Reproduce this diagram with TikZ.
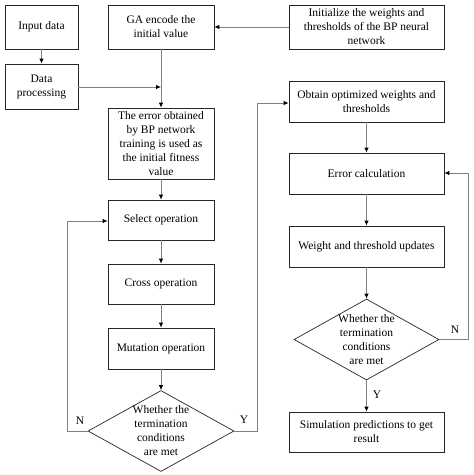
\documentclass[tikz,border=0pt]{standalone}
\usepackage{fontspec}
\setmainfont{Liberation Serif}
\usetikzlibrary{shapes.geometric,arrows.meta}
\begin{document}
\begin{tikzpicture}[x=1pt,y=-1pt,
  box/.style={draw=black!85,line width=0.7pt,rectangle,align=center,inner sep=1pt,font=\fontsize{11.5}{14}\selectfont},
  dia/.style={draw=black!85,line width=0.7pt,diamond,inner sep=0pt},
  lbl/.style={font=\fontsize{11.5}{14}\selectfont,align=center,inner sep=0pt},
  conn/.style={draw=black!50,line width=0.8pt,-{Latex[length=5pt,width=4.5pt,color=black]}},
  line/.style={draw=black!50,line width=0.8pt}]
\useasboundingbox (0,0) rectangle (474,475);
\fill[white] (0,0) rectangle (474,475);
% left column
\node[box,minimum width=73pt,minimum height=44pt] (in) at (41.5,27) {Input data};
\node[box,minimum width=73pt,minimum height=45pt] (dp) at (41.5,86.5) {Data\\processing};
\node[box,minimum width=106pt,minimum height=44pt] (ga) at (161,27) {GA encode the\\initial value};
\node[box,minimum width=155pt,minimum height=44pt] (init) at (366.5,27) {Initialize the weights and\\thresholds of the BP neural\\network};
\node[box,minimum width=106pt,minimum height=71pt] (err) at (161,143.5) {The error obtained\\by BP network\\training is used as\\the initial fitness\\value};
\node[box,minimum width=106pt,minimum height=40pt] (sel) at (161,220) {Select operation};
\node[box,minimum width=106pt,minimum height=40pt] (cro) at (161,284) {Cross operation};
\node[box,minimum width=106pt,minimum height=41pt] (mut) at (161,348.5) {Mutation operation};
\node[dia,minimum width=146pt,minimum height=81pt] (d1) at (161,431) {};
\node[lbl] (d1t) at (161,431) {Whether the\\termination\\conditions\\are met};
% right column
\node[box,minimum width=155pt,minimum height=41pt] (obt) at (366.5,101.5) {Obtain optimized weights and\\thresholds};
\node[box,minimum width=155pt,minimum height=41pt] (ec) at (366.5,173.5) {Error calculation};
\node[box,minimum width=155pt,minimum height=41pt] (wu) at (366.5,246.5) {Weight and threshold updates};
\node[dia,minimum width=145pt,minimum height=81pt] (d2) at (366.5,339.5) {};
\node[lbl] (d2t) at (366.5,339.5) {Whether the\\termination\\conditions\\are met};
\node[box,minimum width=155pt,minimum height=40pt] (sim) at (366.5,432) {Simulation predictions to get\\result};
% labels
\node[lbl] (n1) at (80,421) {N};
\node[lbl] (y1) at (244,420) {Y};
\node[lbl] (n2) at (455,330) {N};
\node[lbl] (y2) at (377,395) {Y};
% coordinates
\coordinate (j) at (161,87);
\coordinate (l1) at (67,431);
\coordinate (l2) at (67,221);
\coordinate (r1) at (257,431);
\coordinate (r2) at (257,103);
\coordinate (q1) at (468,339.5);
\coordinate (q2) at (468,173);
% connectors
\draw[conn] (in) -- (dp);
\draw[conn] (dp.east |- j) -- (j);
\draw[conn] (init.west) -- (ga.east);
\draw[conn] (ga) -- (err);
\draw[conn] (err) -- (sel);
\draw[conn] (sel) -- (cro);
\draw[conn] (cro) -- (mut);
\draw[conn] (mut) -- (d1);
\draw[conn] (d1.west) -- (l1) -- (l2) -- (sel.west |- l2);
\draw[conn] (d1.east) -- (r1) -- (r2) -- (obt.west |- r2);
\draw[conn] (obt) -- (ec);
\draw[conn] (ec) -- (wu);
\draw[conn] (wu) -- (d2);
\draw[conn] (d2.east) -- (q1) -- (q2) -- (ec.east |- q2);
\draw[conn] (d2) -- (sim);
\end{tikzpicture}
\end{document}
